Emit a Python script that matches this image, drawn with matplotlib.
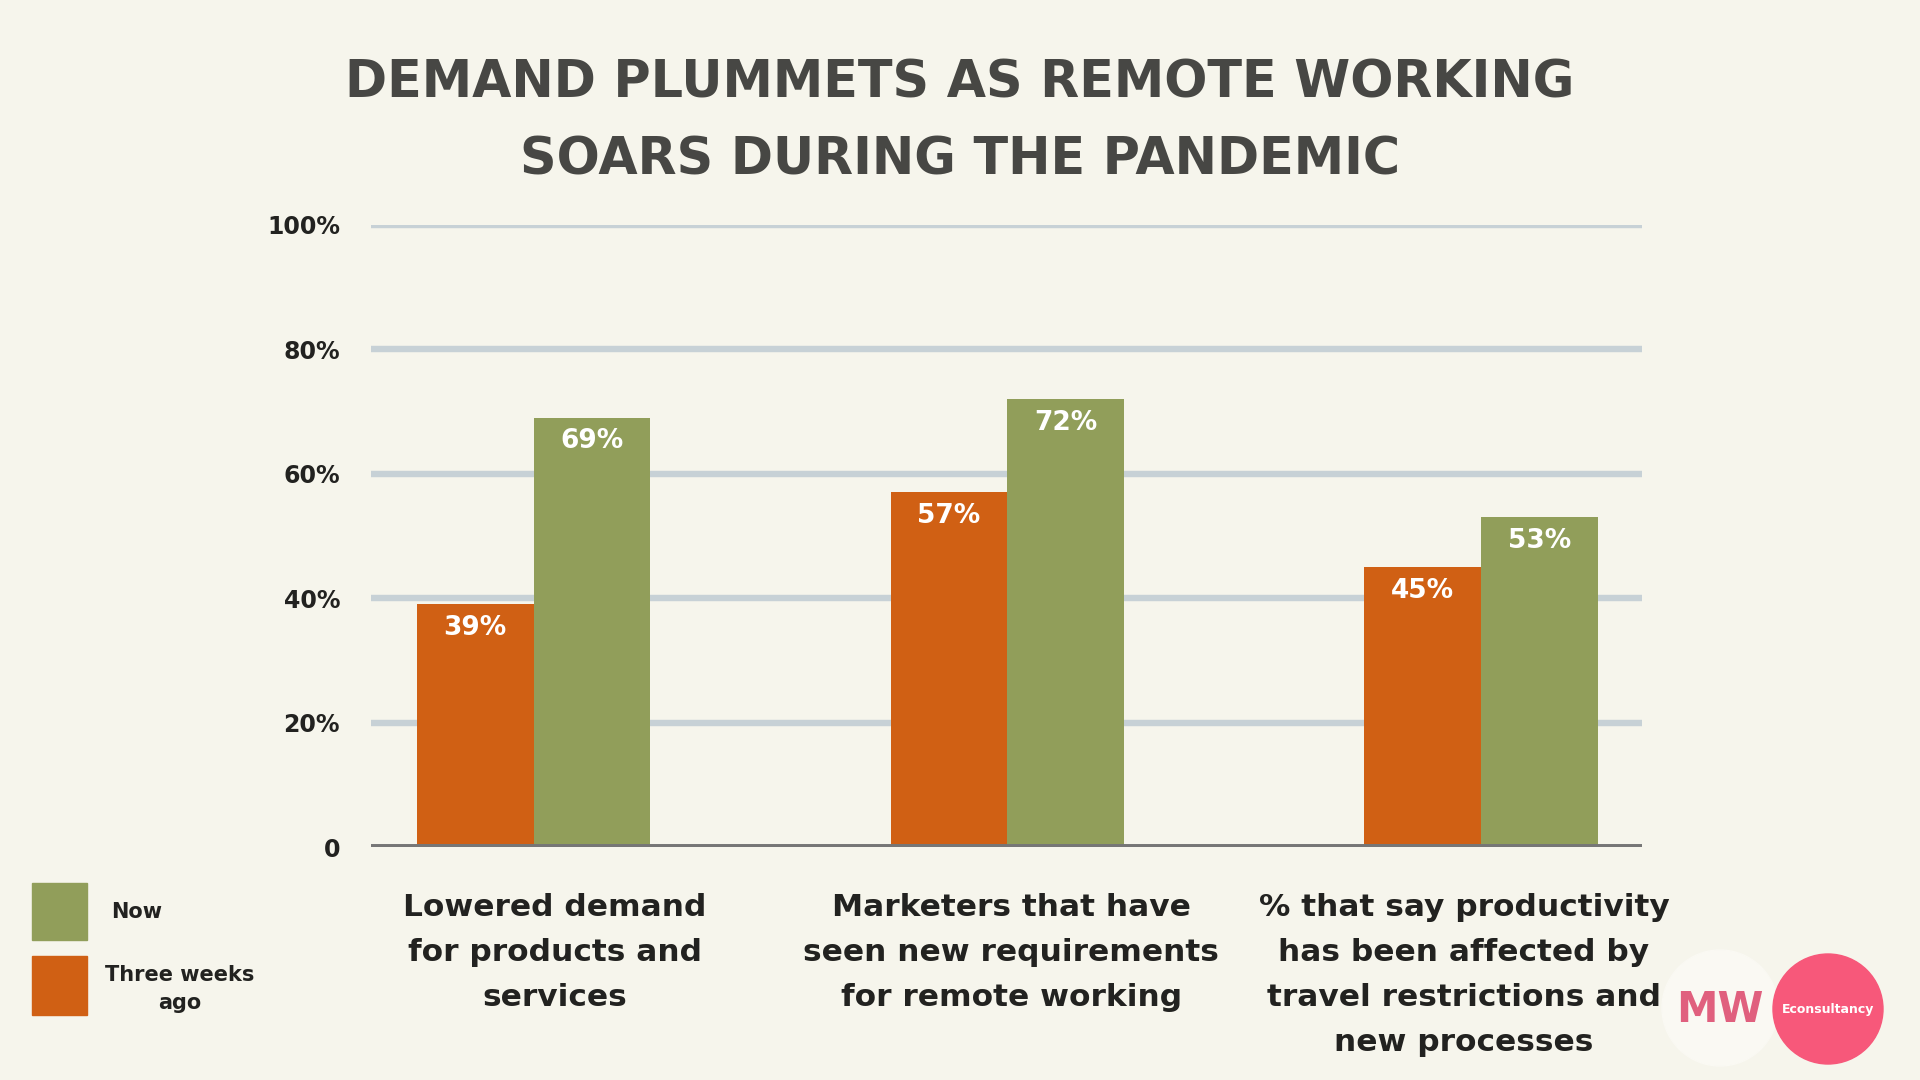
import numpy as np
import matplotlib.pyplot as plt
import matplotlib.transforms as mtransforms
from matplotlib.patches import Circle

# chart data
categories = ['Lowered demand\nfor products and\nservices',
              'Marketers that have\nseen new requirements\nfor remote working',
              '% that say productivity\nhas been affected by\ntravel restrictions and\nnew processes']
three_weeks_ago = [39, 57, 45]
now = [69, 72, 53]
y_ticks = [0, 20, 40, 60, 80, 100]
y_tick_labels = ['0', '20%', '40%', '60%', '80%', '100%']

BG = '#f6f5ec'
ORANGE = '#d06014'
GREEN = '#919e5a'
GRID = '#c7d1d6'
TEXT = '#222220'

plt.rcParams['font.family'] = ['DejaVu Sans']
plt.rcParams['font.weight'] = 'bold'

fig = plt.figure(figsize=(19.2, 10.8), dpi=100, facecolor=BG)
ax = fig.add_axes([0.193, 0.2157, 0.662, 0.576])
ax.set_facecolor(BG)

x = np.arange(len(categories))
width = 0.246

# gridlines
for t in y_ticks[1:]:
    ax.axhline(t, color=GRID, linewidth=4.6, zorder=0)
ax.axhline(0, color='#767676', linewidth=5, zorder=3)

bars_old = ax.bar(x - width / 2, three_weeks_ago, width, color=ORANGE, zorder=2)
bars_now = ax.bar(x + width / 2, now, width, color=GREEN, zorder=2)

# value labels inside the bars
for bars, vals in [(bars_old, three_weeks_ago), (bars_now, now)]:
    for b, v in zip(bars, vals):
        ax.annotate(f'{v}%', (b.get_x() + b.get_width() / 2, v),
                    xytext=(0, -17), textcoords='offset points',
                    ha='center', va='center', color='white',
                    fontsize=19, fontweight='bold')

ax.set_xlim(-0.344, 2.339)
ax.set_ylim(0, 100)
ax.set_yticks(y_ticks)
ax.set_yticklabels(y_tick_labels, fontsize=17, fontweight='bold', color=TEXT)
ax.set_xticks(x)
ax.set_xticklabels(categories, fontsize=22.5, fontweight='bold', color=TEXT,
                   linespacing=1.7)
ax.tick_params(axis='y', length=0, pad=22)
ax.tick_params(axis='x', length=0, pad=33)
for s in ax.spines.values():
    s.set_visible(False)

# nudge the category labels a little, like the original layout
for lbl, dx in zip(ax.get_xticklabels(), [21, 4, -17]):
    off = mtransforms.ScaledTranslation(dx / 100, 0, fig.dpi_scale_trans)
    lbl.set_transform(lbl.get_transform() + off)

# title
fig.text(0.5, 0.887, 'DEMAND PLUMMETS AS REMOTE WORKING\nSOARS DURING THE PANDEMIC',
         ha='center', va='center', fontsize=36.5, fontweight='bold',
         color='#474744', linespacing=1.7)

# legend
fig.patches.append(plt.Rectangle((32 / 1920, 1 - 940 / 1080), 55 / 1920, 57 / 1080,
                                 transform=fig.transFigure, color=GREEN))
fig.patches.append(plt.Rectangle((32 / 1920, 1 - 1015 / 1080), 55 / 1920, 59 / 1080,
                                 transform=fig.transFigure, color=ORANGE))
fig.text(137 / 1920, 1 - 912 / 1080, 'Now', ha='center', va='center',
         fontsize=15, fontweight='bold', color=TEXT)
fig.text(180 / 1920, 1 - 989 / 1080, 'Three weeks\nago', ha='center', va='center',
         fontsize=15, fontweight='bold', color=TEXT, linespacing=1.5)

# logos
lax = fig.add_axes([0, 0, 1, 1], facecolor='none')
lax.set_xlim(0, 1920)
lax.set_ylim(1080, 0)
lax.axis('off')
lax.add_patch(Circle((1720, 1008), 58, color='#faf9f3'))
lax.add_patch(Circle((1828, 1009), 55, color='#f7587a'))
lax.text(1720, 1010, 'MW', ha='center', va='center', fontsize=30,
         fontweight='bold', color='#e0607e')
lax.text(1828, 1010, 'Econsultancy', ha='center', va='center', fontsize=9,
         fontweight='bold', color='white')

fig.savefig('out.png', dpi=100, facecolor=BG)
